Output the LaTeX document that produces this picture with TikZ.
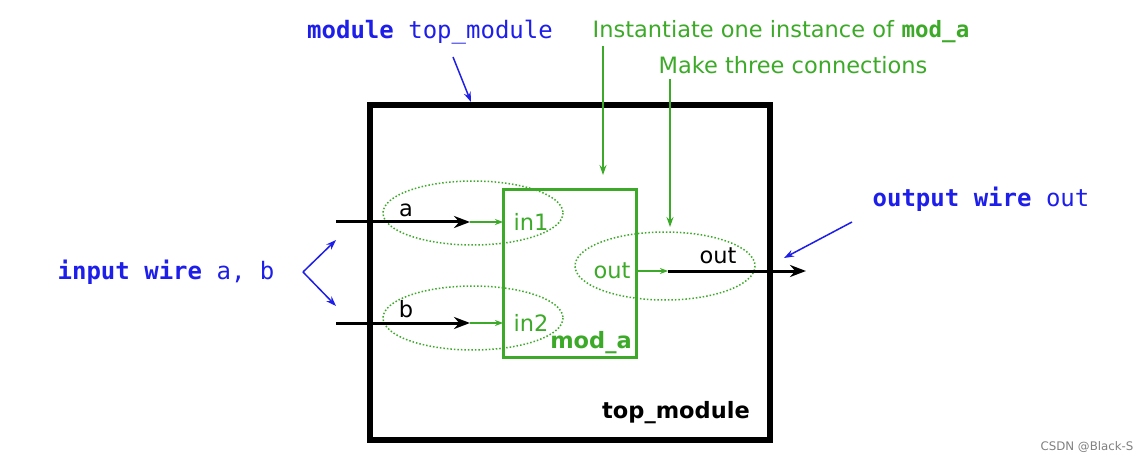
\documentclass[tikz,border=0pt]{standalone}
\usepackage{fontspec}
\setmainfont{DejaVu Sans}
\setmonofont{DejaVu Sans Mono}
\usetikzlibrary{arrows.meta}
\definecolor{vb}{RGB}{30,30,235}
\definecolor{vg}{RGB}{60,170,40}
\begin{document}
\begin{tikzpicture}[x=1pt,y=-1pt,
  txt/.style={font=\fontsize{22.5}{26}\selectfont,inner sep=0pt},
  gtxt/.style={txt,text=vg},
  btxt/.style={txt,text=vb,font=\fontsize{24}{28}\selectfont\ttfamily},
  ell/.style={draw=vg,dotted,line width=1.5pt},
  blk/.style={line width=3pt,-{Stealth[length=16pt,width=12pt]}},
  gar/.style={draw=vg,line width=1.5pt,-{Stealth[length=8pt,width=6pt]}},
  bar/.style={draw=vb,line width=1.5pt,-{Stealth[length=10pt,width=7pt]}},
  gar2/.style={draw=vg,line width=1.5pt,-{Stealth[length=10pt,width=7pt]}}]
\useasboundingbox (0,0) rectangle (1147,462);
\draw[line width=5.5pt] (370,105) rectangle (770,440);
\node[txt,font=\fontsize{22.5}{26}\selectfont\bfseries] (tm) at (676,413) {top\_module};
\draw[draw=vg,line width=3pt] (503,190) rectangle (636,357);
\node[gtxt,font=\fontsize{22.5}{26}\selectfont\bfseries] (ma) at (591,343) {mod\_a};
\draw[ell] (473,213) ellipse [x radius=90,y radius=32];
\draw[ell] (473,318) ellipse [x radius=90,y radius=32];
\draw[ell] (665,266) ellipse [x radius=90,y radius=34];
\node[gtxt] (in1) at (531,222) {in1};
\node[gtxt] (in2) at (531,323) {in2};
\node[gtxt] (o) at (612,271) {out};
\coordinate (a0) at (336,222); \coordinate (a1) at (470,222); \coordinate (a2) at (503,222);
\coordinate (b0) at (336,323); \coordinate (b1) at (470,323); \coordinate (b2) at (503,323);
\coordinate (o1) at (636,271); \coordinate (o2) at (668,271); \coordinate (o3) at (806,271);
\draw[blk] (a0) -- (a1); \draw[gar] (a1) -- (a2);
\draw[blk] (b0) -- (b1); \draw[gar] (b1) -- (b2);
\draw[gar] (o1) -- (o2); \draw[blk] (o2) -- (o3);
\node[txt] (la) at (406,210) {a};
\node[txt] (lb) at (406,309) {b};
\node[txt] (lo) at (718,256) {out};
\node[btxt] (inw) at (166,272) {\textbf{input wire} a, b};
\coordinate (ip) at (303,272);
\draw[bar] (ip) -- (336,240); \draw[bar] (ip) -- (336,306);
\node[btxt] (mod) at (430,32) {\textbf{module} top\_module};
\draw[bar] (453,57) -- (471,102);
\node[btxt] (ow) at (981,199) {\textbf{output wire} out};
\draw[bar] (852,222) -- (784,258);
\node[gtxt] (inst) at (781,32) {Instantiate one instance of \texttt{\textbf{mod\_a}}};
\draw[gar2] (603,46) -- (603,175);
\node[gtxt] (mk) at (793,65) {Make three connections};
\draw[gar2] (670,79) -- (670,227);
\node[txt,text=gray,font=\fontsize{11.8}{14}\selectfont] (c) at (1087,447) {CSDN @Black-S};
\end{tikzpicture}
\end{document}
